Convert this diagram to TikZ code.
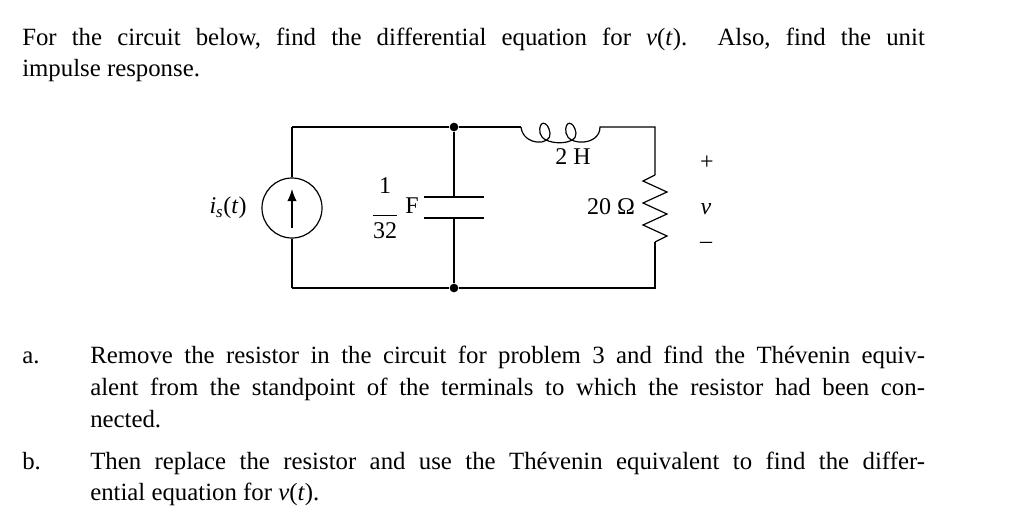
\documentclass[tikz,border=0pt]{standalone}
\usepackage{fontspec}
\setmainfont{Liberation Serif}
\frenchspacing
\usetikzlibrary{arrows.meta}
\begin{document}
\begin{tikzpicture}[x=0.75pt,y=-0.75pt,
  wire/.style={line width=0.9pt},
  txt/.style={anchor=base west,inner sep=0,font=\fontsize{18.6}{22}\selectfont},
  lbl/.style={inner sep=0,font=\fontsize{18}{20}\selectfont},
  dot/.style={circle,fill,inner sep=0,minimum size=6.5pt}]
\useasboundingbox (0,0) rectangle (1024,526);
% text
\node[txt] (l1) at (22,45) {\makebox[677pt][s]{For the circuit below, find the differential equation for \textit{v}(\textit{t}).\ \ Also, find the unit}};
\node[txt] (l2) at (22,76) {impulse response.};
\node[txt] (a) at (22,363) {a.};
\node[txt] (a1) at (90,363) {\makebox[626pt][s]{Remove the resistor in the circuit for problem 3 and find the Thévenin equiv-}};
\node[txt] (a2) at (90,395) {\makebox[626pt][s]{alent from the standpoint of the terminals to which the resistor had been con-}};
\node[txt] (a3) at (90,427) {nected.};
\node[txt] (b) at (22,469) {b.};
\node[txt] (b1) at (90,469) {\makebox[626pt][s]{Then replace the resistor and use the Thévenin equivalent to find the differ-}};
\node[txt] (b2) at (90,500) {ential equation for \textit{v}(\textit{t}).};
% circuit
\coordinate (TL) at (292,127); \coordinate (BL) at (292,288);
\node[dot] (TN) at (454,127) {}; \node[dot] (BN) at (454,288) {};
\coordinate (TR) at (655,127); \coordinate (BR) at (655,288);
\node[draw,circle,wire,minimum size=45pt,inner sep=0] (src) at (292,208) {};
\draw[wire] (TL) -- (src.north); \draw[wire] (BL) -- (src.south);
\draw[wire,-{Latex[length=9pt,width=7pt]}] (292,228) -- (292,189);
\draw[wire] (TL) -- (TN) -- (521,127);
\draw[wire] (BL) -- (BN) -- (BR) -- (655,242);
\draw[wire] (TN) -- (454,197); \draw[wire] (BN) -- (454,218);
\draw[wire] (424,197) -- (484,197); \draw[wire] (424,218) -- (484,218);
% inductor
\draw[wire] (521,127) .. controls (523,146) and (552,146) .. (550,133)
  .. controls (548,120) and (538,120) .. (540,133)
  .. controls (542,146) and (578,146) .. (576,133)
  .. controls (574,120) and (564,120) .. (566,133)
  .. controls (568,146) and (600,146) .. (600,127) -- (TR) -- (655,175);
% resistor
\draw[wire] (655,175) -- (643,181) -- (667,192) -- (643,203) -- (667,214) -- (643,225) -- (667,236) -- (655,242);
\node[lbl] (isl) at (228,208) {\textit{i}\textsubscript{\textit{s}}(\textit{t})};
\node[lbl,align=center] (fr) at (385,208) {1\\[-3pt]\rule{18pt}{0.6pt}\\[-3pt]32};
\node[lbl] (F) at (412,206) {F};
\node[lbl] (L) at (573,157) {2 H};
\node[lbl] (R) at (611,207) {20 Ω};
\node[lbl] (p) at (707,163) {+};
\node[lbl] (v) at (706,209) {\textit{v}};
\node[lbl] (m) at (706,245) {–};
\end{tikzpicture}
\end{document}
